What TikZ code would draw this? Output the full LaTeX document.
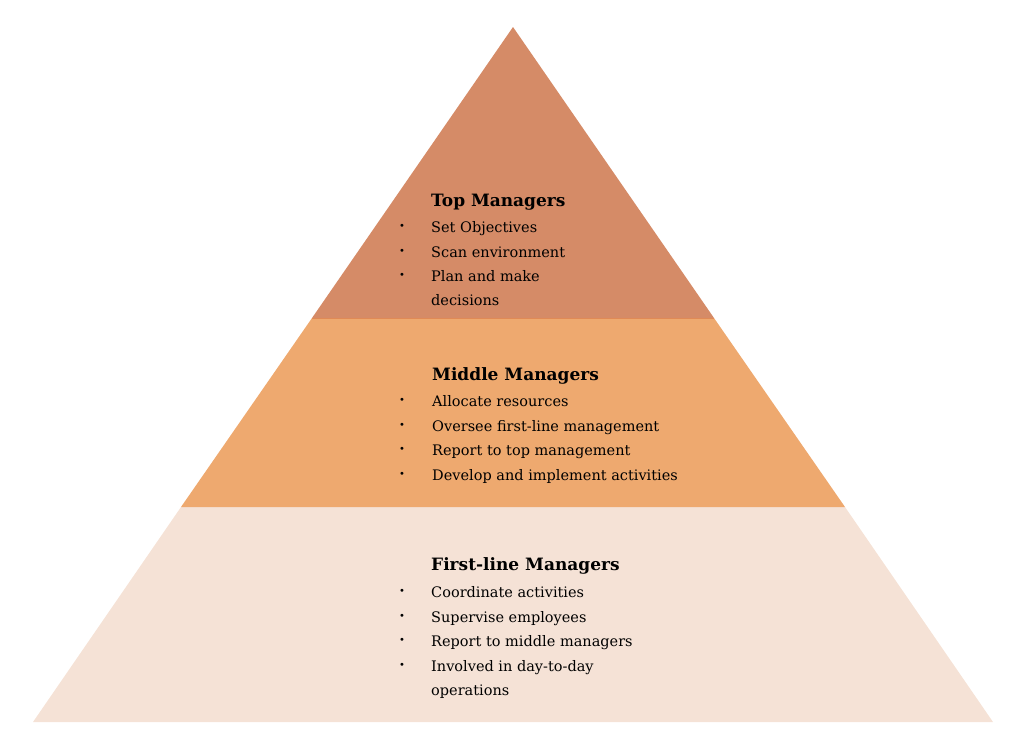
\documentclass[tikz,border=0pt]{standalone}
\usepackage{fontspec}
\setmainfont{DejaVu Serif}
\definecolor{topc}{HTML}{D58B67}
\definecolor{midc}{HTML}{EEA96F}
\definecolor{botc}{HTML}{F5E2D6}
\definecolor{edgec}{HTML}{E08A55}
\begin{document}
\begin{tikzpicture}[x=1pt,y=-1pt,
  title/.style={anchor=base west,inner sep=0pt,font=\fontsize{17}{20}\selectfont\bfseries},
  item/.style={anchor=base west,inner sep=0pt,font=\fontsize{14.5}{17}\selectfont},
  bul/.style={anchor=base,inner sep=0pt,font=\fontsize{10}{12}\selectfont}]
\useasboundingbox (0,0) rectangle (1024,745);
\coordinate (apex) at (513,27);
\coordinate (l1) at (312,318); \coordinate (r1) at (714,318);
\coordinate (l2) at (181,507); \coordinate (r2) at (845,507);
\coordinate (bl) at (33,722); \coordinate (br) at (993,722);
\fill[botc] (l2) -- (r2) -- (br) -- (bl) -- cycle;
\fill[midc] (l1) -- (r1) -- (r2) -- (l2) -- cycle;
\fill[topc] (apex) -- (r1) -- (l1) -- cycle;
\draw[edgec,line width=0.8pt] (l1) -- (r1);
\node[title] (t1) at (431,206) {Top Managers};
\foreach \t/\y/\b [count=\i] in {Set Objectives/232/1,Scan environment/257/1,Plan and make/281/1,decisions/305/0}{
  \node[item] (a\i) at (431,\y) {\t};
  \ifnum\b=1 \node[bul] (ab\i) at (402,\y-3) {•};\fi
}
\node[title] (t2) at (432,380) {Middle Managers};
\foreach \t/\y [count=\i] in {Allocate resources/406,Oversee first-line management/431,Report to top management/455,Develop and implement activities/480}{
  \node[item] (b\i) at (432,\y) {\t};
  \node[bul] (bb\i) at (402,\y-3) {•};
}
\node[title] (t3) at (431,570) {First-line Managers};
\foreach \t/\y/\b [count=\i] in {Coordinate activities/597/1,Supervise employees/622/1,Report to middle managers/646/1,Involved in day-to-day/671/1,operations/695/0}{
  \node[item] (c\i) at (431,\y) {\t};
  \ifnum\b=1 \node[bul] (cb\i) at (402,\y-3) {•};\fi
}
\end{tikzpicture}
\end{document}
